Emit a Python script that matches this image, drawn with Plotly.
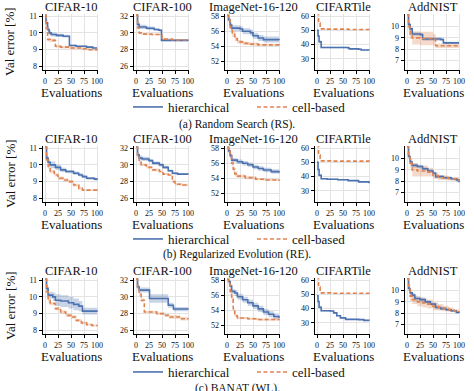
import plotly.graph_objects as go

# ---------------- data (x, mean, half-band) ----------------
DATASETS = ["CIFAR-10", "CIFAR-100", "ImageNet-16-120", "CIFARTile", "AddNIST"]
YTICKS = [[8, 9, 10, 11], [26, 28, 30, 32], [52, 54, 56, 58], [30, 40, 50, 60], [7, 8, 9, 10]]
XTICKS = [0, 25, 50, 75, 100]
XTICK_LABELS = ["0", "25", "50", "75", "100"]
CAPTIONS = ["(a) Random Search (RS).", "(b) Regularized Evolution (RE).", "(c) BANAT (WL)."]
SERIES_NAMES = ["hierarchical", "cell-based"]

# Random Search
RS_C10_HIER = [(0, 11.05, 0.05), (2, 10.6, 0.2), (5, 10.2, 0.2), (8, 10.0, 0.15), (12, 9.9, 0.12), (22, 9.85, 0.1),
               (35, 9.8, 0.08), (47, 9.25, 0.06), (60, 9.2, 0.05), (80, 9.15, 0.05), (92, 9.1, 0.05), (100, 9.1, 0.05)]
RS_C10_CELL = [(0, 11.05, 0.05), (2, 10.3, 0.15), (5, 9.6, 0.12), (10, 9.55, 0.1), (20, 9.2, 0.08), (30, 9.15, 0.08),
               (50, 9.1, 0.08), (70, 9.05, 0.08), (85, 9.0, 0.06), (100, 8.95, 0.05)]
RS_C100_HIER = [(0, 32.1, 0.1), (3, 31.0, 0.3), (6, 30.7, 0.25), (20, 30.55, 0.2), (35, 30.4, 0.15), (44, 30.3, 0.15),
                (49, 29.1, 0.1), (100, 29.05, 0.1)]
RS_C100_CELL = [(0, 32.1, 0.1), (3, 30.6, 0.2), (6, 30.0, 0.15), (10, 29.85, 0.1), (30, 29.8, 0.1), (48, 29.7, 0.1),
                (50, 29.25, 0.1), (70, 29.15, 0.1), (100, 29.1, 0.1)]
RS_IMG_HIER = [(0, 58.1, 0.1), (3, 57.5, 0.3), (6, 56.8, 0.4), (9, 56.4, 0.4), (25, 56.3, 0.4), (30, 56.0, 0.4),
               (45, 55.8, 0.4), (50, 55.4, 0.4), (60, 55.1, 0.4), (70, 54.9, 0.4), (100, 54.8, 0.4)]
RS_IMG_CELL = [(0, 58.1, 0.1), (3, 57.5, 0.3), (6, 56.5, 0.4), (10, 55.6, 0.4), (15, 55.0, 0.3), (20, 54.6, 0.25),
               (30, 54.4, 0.2), (45, 54.3, 0.2), (60, 54.2, 0.15), (100, 54.15, 0.15)]
RS_TILE_HIER = [(0, 50, 0.5), (2, 46, 1), (4, 42, 1), (8, 38, 0.5), (60, 37.6, 0.5), (62, 37.0, 0.5),
                (80, 36.8, 0.4), (85, 36.2, 0.4), (100, 36.0, 0.4)]
RS_TILE_CELL = [(0, 62, 0.3), (3, 55, 0.5), (6, 51, 0.3), (20, 50.8, 0.2), (60, 50.6, 0.2), (100, 50.4, 0.2)]
RS_ADD_HIER = [(0, 11.1, 0.05), (3, 10.2, 0.2), (6, 9.8, 0.2), (10, 9.35, 0.15), (25, 9.3, 0.15), (30, 8.9, 0.15),
               (65, 8.85, 0.15), (70, 8.55, 0.1), (100, 8.55, 0.1)]
RS_ADD_CELL = [(0, 11.1, 0.05), (3, 10.0, 0.4), (6, 9.3, 0.4), (10, 9.0, 0.6), (25, 8.95, 0.6), (50, 8.85, 0.5),
               (55, 8.3, 0.2), (100, 8.25, 0.2)]

# Regularized Evolution
RE_C10_HIER = [(0, 11.05, 0.05), (3, 10.4, 0.2), (6, 10.15, 0.2), (10, 10.0, 0.2), (20, 9.85, 0.15), (30, 9.7, 0.12),
               (40, 9.6, 0.1), (55, 9.5, 0.1), (65, 9.4, 0.1), (72, 9.3, 0.08), (80, 9.2, 0.08), (95, 9.15, 0.08),
               (100, 9.1, 0.08)]
RE_C10_CELL = [(0, 11.05, 0.05), (3, 10.3, 0.15), (6, 9.9, 0.12), (10, 9.6, 0.1), (18, 9.4, 0.1), (25, 9.2, 0.1),
               (35, 9.1, 0.1), (45, 9.0, 0.1), (55, 8.8, 0.08), (65, 8.6, 0.08), (72, 8.5, 0.05), (100, 8.45, 0.05)]
RE_C100_HIER = [(0, 32.1, 0.1), (3, 31.2, 0.3), (6, 30.8, 0.3), (12, 30.7, 0.25), (25, 30.5, 0.2), (32, 30.2, 0.2),
                (45, 30.0, 0.2), (52, 29.7, 0.2), (62, 29.3, 0.15), (70, 29.0, 0.15), (80, 28.9, 0.1),
                (100, 28.85, 0.1)]
RE_C100_CELL = [(0, 32.1, 0.1), (3, 31.0, 0.2), (6, 30.3, 0.2), (10, 30.0, 0.15), (20, 29.7, 0.15), (30, 29.4, 0.15),
                (45, 29.2, 0.12), (52, 28.9, 0.12), (62, 28.8, 0.1), (70, 28.0, 0.15), (75, 27.7, 0.15),
                (90, 27.6, 0.15), (100, 27.5, 0.15)]
RE_IMG_HIER = [(0, 58.1, 0.1), (3, 57.6, 0.3), (6, 57.0, 0.3), (9, 56.4, 0.3), (20, 56.2, 0.3), (30, 56.0, 0.3),
               (40, 55.8, 0.3), (50, 55.5, 0.3), (60, 55.3, 0.3), (70, 55.1, 0.3), (85, 54.9, 0.3),
               (100, 54.75, 0.3)]
RE_IMG_CELL = [(0, 58.1, 0.1), (3, 57.6, 0.3), (6, 56.9, 0.4), (9, 56.0, 0.4), (12, 55.2, 0.4), (15, 54.6, 0.3),
               (20, 54.3, 0.2), (35, 54.1, 0.2), (55, 53.9, 0.15), (75, 53.8, 0.15), (100, 53.65, 0.15)]
RE_TILE_HIER = [(0, 50, 0.5), (2, 45, 1), (4, 41, 1), (8, 38.5, 0.5), (20, 38.2, 0.5), (40, 37.8, 0.5),
                (60, 37.2, 0.5), (80, 36.3, 0.5), (100, 35.3, 0.5)]
RE_TILE_CELL = [(0, 62, 0.3), (3, 55, 0.5), (6, 51, 0.3), (30, 50.8, 0.2), (100, 50.5, 0.2)]
RE_ADD_HIER = [(0, 11.1, 0.05), (3, 10.2, 0.2), (6, 9.7, 0.2), (10, 9.4, 0.2), (20, 9.3, 0.15), (30, 9.1, 0.15),
               (40, 8.9, 0.15), (50, 8.7, 0.15), (55, 8.4, 0.15), (70, 8.3, 0.12), (85, 8.2, 0.12), (95, 8.1, 0.2),
               (100, 7.9, 0.5)]
RE_ADD_CELL = [(0, 11.1, 0.05), (3, 10.3, 0.3), (6, 9.6, 0.4), (10, 9.0, 0.6), (20, 8.9, 0.5), (40, 8.8, 0.4),
               (50, 8.5, 0.3), (60, 8.3, 0.2), (80, 8.2, 0.15), (100, 8.0, 0.15)]

# BANAT (WL)
WL_C10_HIER = [(0, 11.05, 0.05), (3, 10.5, 0.2), (6, 10.1, 0.2), (15, 10.0, 0.25), (20, 9.8, 0.35), (30, 9.75, 0.35),
               (45, 9.65, 0.35), (55, 9.55, 0.35), (65, 9.45, 0.3), (72, 9.15, 0.2), (100, 9.12, 0.2)]
WL_C10_CELL = [(0, 11.05, 0.05), (3, 10.3, 0.15), (6, 9.8, 0.12), (10, 9.6, 0.1), (20, 9.3, 0.1), (30, 9.1, 0.1),
               (40, 8.9, 0.1), (50, 8.8, 0.1), (60, 8.6, 0.08), (70, 8.45, 0.08), (80, 8.35, 0.06), (90, 8.3, 0.06),
               (100, 8.25, 0.05)]
WL_C100_HIER = [(0, 32.1, 0.1), (3, 31.2, 0.3), (6, 30.8, 0.3), (26, 29.8, 0.5), (62, 29.0, 0.3), (72, 28.55, 0.25),
                (100, 28.5, 0.25)]
WL_C100_CELL = [(0, 32.1, 0.1), (3, 31.0, 0.2), (6, 30.3, 0.2), (10, 29.6, 0.2), (16, 28.2, 0.15), (40, 28.0, 0.15),
                (55, 27.8, 0.15), (65, 27.6, 0.2), (85, 27.4, 0.2), (100, 27.3, 0.2)]
WL_IMG_HIER = [(0, 58.1, 0.1), (3, 57.8, 0.2), (6, 57.2, 0.3), (9, 56.5, 0.3), (15, 56.3, 0.4), (20, 55.8, 0.4),
               (30, 55.4, 0.4), (40, 55.0, 0.4), (50, 54.6, 0.4), (60, 54.2, 0.4), (70, 53.8, 0.4), (80, 53.5, 0.4),
               (90, 53.2, 0.4), (100, 53.0, 0.4)]
WL_IMG_CELL = [(0, 58.1, 0.1), (3, 57.5, 0.3), (6, 56.5, 0.4), (9, 55.5, 0.4), (12, 54.0, 0.3), (15, 53.3, 0.2),
               (20, 53.0, 0.15), (40, 52.9, 0.15), (60, 52.8, 0.15), (100, 52.7, 0.15)]
WL_TILE_HIER = [(0, 49, 0.5), (2, 45, 1), (4, 41, 1), (8, 38.5, 0.5), (25, 38.3, 0.5), (32, 37, 0.5), (38, 35, 0.5),
                (45, 33.5, 0.5), (55, 32.5, 0.5), (80, 32.3, 0.5), (90, 31.8, 0.5), (100, 31.5, 0.5)]
WL_TILE_CELL = [(0, 62, 0.3), (3, 55, 0.5), (6, 51, 0.3), (30, 50.7, 0.2), (100, 50.4, 0.2)]
WL_ADD_HIER = [(0, 11.1, 0.05), (3, 10.2, 0.2), (6, 9.8, 0.2), (10, 9.6, 0.2), (15, 9.3, 0.2), (25, 9.2, 0.2),
               (35, 9.0, 0.15), (45, 8.8, 0.15), (55, 8.5, 0.15), (65, 8.4, 0.12), (75, 8.3, 0.12), (85, 8.2, 0.1),
               (95, 8.05, 0.1), (100, 8.0, 0.1)]
WL_ADD_CELL = [(0, 11.1, 0.05), (3, 10.4, 0.3), (6, 9.5, 0.4), (10, 9.2, 0.4), (20, 9.0, 0.4), (30, 8.9, 0.4),
               (40, 8.8, 0.4), (50, 8.6, 0.35), (60, 8.5, 0.3), (70, 8.4, 0.25), (80, 8.3, 0.2), (90, 8.2, 0.15),
               (100, 8.1, 0.1)]

ROWS = [
    [(RS_C10_HIER, RS_C10_CELL), (RS_C100_HIER, RS_C100_CELL), (RS_IMG_HIER, RS_IMG_CELL),
     (RS_TILE_HIER, RS_TILE_CELL), (RS_ADD_HIER, RS_ADD_CELL)],
    [(RE_C10_HIER, RE_C10_CELL), (RE_C100_HIER, RE_C100_CELL), (RE_IMG_HIER, RE_IMG_CELL),
     (RE_TILE_HIER, RE_TILE_CELL), (RE_ADD_HIER, RE_ADD_CELL)],
    [(WL_C10_HIER, WL_C10_CELL), (WL_C100_HIER, WL_C100_CELL), (WL_IMG_HIER, WL_IMG_CELL),
     (WL_TILE_HIER, WL_TILE_CELL), (WL_ADD_HIER, WL_ADD_CELL)],
]

# ---------------- layout geometry ----------------
W, H = 474, 391
ROW_TOP = [16, 148, 280]          # pixel of the top tick level
SPAN = 50.5                       # pixel span between top/bottom tick levels
COL_X0 = [45, 136, 227, 317, 407]  # pixel of x = 0
PX_PER_X = 0.52
XR = [-4, 102]
Y_LO = [8, 26, 51.36, 24.7, 6.44]
Y_HI = [11, 32, 58, 60, 10.955]
PAD_T, PAD_B = 1.7, 3.4

BLUE = "#4c72b0"
ORANGE = "#dd8452"
BLUE_F = "rgba(76,114,176,0.3)"
ORANGE_F = "rgba(221,132,82,0.3)"
FONT = "Liberation Serif, Times New Roman, Times, serif"

fig = go.Figure()
annotations = []
legend_names = ["legend", "legend2", "legend3"]


def py(p):
    return 1 - p / H


def px(p):
    return p / W


idx = 0
for r in range(3):
    T = ROW_TOP[r]
    for c in range(5):
        idx += 1
        xa = "x" if idx == 1 else f"x{idx}"
        ya = "y" if idx == 1 else f"y{idx}"
        lo, hi = Y_LO[c], Y_HI[c]
        unit = (hi - lo) / SPAN
        yr = [lo - PAD_B * unit, hi + PAD_T * unit]
        left = COL_X0[c] + XR[0] * PX_PER_X
        right = COL_X0[c] + XR[1] * PX_PER_X
        top = T - PAD_T
        bot = T + SPAN + PAD_B
        ax_common = dict(showline=True, linecolor="black", linewidth=1.4, ticks="outside", ticklen=3,
                         tickwidth=1.1, tickcolor="black", showgrid=True, gridcolor="#e3e3e3", gridwidth=1,
                         zeroline=False, automargin=False, tickfont=dict(family=FONT, size=8, color="#111"))
        fig.update_layout(**{
            ("xaxis" if idx == 1 else f"xaxis{idx}"): dict(domain=[px(left), px(right)], range=XR, anchor=ya,
                                                           tickvals=XTICKS, ticktext=XTICK_LABELS, **ax_common),
            ("yaxis" if idx == 1 else f"yaxis{idx}"): dict(domain=[py(bot), py(top)], range=yr, anchor=xa,
                                                           tickvals=YTICKS[c], **ax_common),
        })
        hier, cell = ROWS[r][c]
        for data, fillc in ((hier, BLUE_F), (cell, ORANGE_F)):
            xs = [d[0] for d in data]
            up = [d[1] + d[2] for d in data]
            dn = [d[1] - d[2] for d in data]
            fig.add_trace(go.Scatter(x=xs, y=up, mode="lines", line=dict(width=0, shape="hv"),
                                     xaxis=xa, yaxis=ya, showlegend=False, hoverinfo="skip",
                                     legend=legend_names[r]))
            fig.add_trace(go.Scatter(x=xs, y=dn, mode="lines", line=dict(width=0, shape="hv"), fill="tonexty",
                                     fillcolor=fillc, xaxis=xa, yaxis=ya, showlegend=False, hoverinfo="skip",
                                     legend=legend_names[r]))
        for k, (data, col, dash) in enumerate(((hier, BLUE, "solid"), (cell, ORANGE, "4px,2.5px"))):
            fig.add_trace(go.Scatter(x=[d[0] for d in data], y=[d[1] for d in data], mode="lines",
                                     name=SERIES_NAMES[k], line=dict(color=col, width=1.6, dash=dash, shape="hv"),
                                     xaxis=xa, yaxis=ya, showlegend=(c == 0), legend=legend_names[r]))
        cx = COL_X0[c] + 50 * PX_PER_X
        annotations.append(dict(text=DATASETS[c], x=px(cx), y=py(T - 9), xref="paper", yref="paper",
                                showarrow=False, font=dict(family=FONT, size=12.5, color="#111"),
                                xanchor="center", yanchor="middle"))
        annotations.append(dict(text="Evaluations", x=px(cx), y=py(T + 76), xref="paper", yref="paper",
                                showarrow=False, font=dict(family=FONT, size=13, color="#111"),
                                xanchor="center", yanchor="middle"))
    annotations.append(dict(text="Val error [%]", x=px(10), y=py(T + 26), xref="paper", yref="paper",
                            textangle=-90, showarrow=False, font=dict(family=FONT, size=13, color="#111"),
                            xanchor="center", yanchor="middle"))
    annotations.append(dict(text=CAPTIONS[r], x=0.5, y=py([124, 254, 388][r]), xref="paper", yref="paper",
                            showarrow=False, font=dict(family=FONT, size=11.5, color="#111"),
                            xanchor="center", yanchor="middle"))

legend_cfg = dict(orientation="h", xanchor="left", yanchor="middle", x=px(128), bgcolor="rgba(0,0,0,0)",
                  font=dict(family=FONT, size=13, color="#111"), entrywidth=79, entrywidthmode="pixels",
                  traceorder="normal", itemclick=False, itemdoubleclick=False)
fig.update_layout(
    legend=dict(y=py(ROW_TOP[0] + 91), **legend_cfg),
    legend2=dict(y=py(ROW_TOP[1] + 91), **legend_cfg),
    legend3=dict(y=py(ROW_TOP[2] + 92), **legend_cfg),
)

fig.update_layout(width=W, height=H, margin=dict(l=0, r=0, t=0, b=0), plot_bgcolor="white",
                  paper_bgcolor="white", annotations=annotations, font=dict(family=FONT))
fig.write_html("out.html", config={"displayModeBar": False},
               post_script="document.body.style.margin='0';document.body.style.padding='0';")
